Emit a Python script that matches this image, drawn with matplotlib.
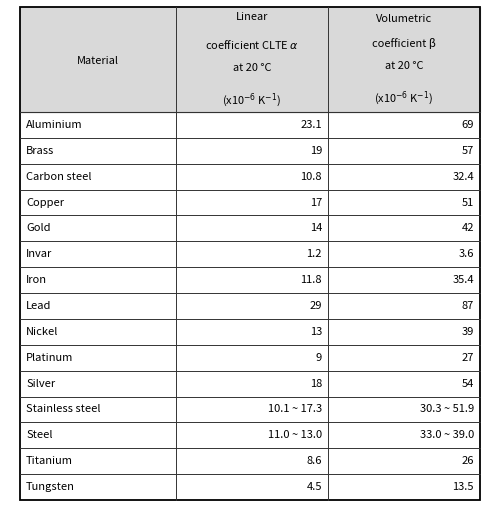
import matplotlib
matplotlib.use("Agg")
import matplotlib.pyplot as plt

materials = ["Aluminium", "Brass", "Carbon steel", "Copper", "Gold", "Invar", "Iron", "Lead",
             "Nickel", "Platinum", "Silver", "Stainless steel", "Steel", "Titanium", "Tungsten"]
linear = ["23.1", "19", "10.8", "17", "14", "1.2", "11.8", "29", "13", "9", "18",
          "10.1 ~ 17.3", "11.0 ~ 13.0", "8.6", "4.5"]
volumetric = ["69", "57", "32.4", "51", "42", "3.6", "35.4", "87", "39", "27", "54",
              "30.3 ~ 51.9", "33.0 ~ 39.0", "26", "13.5"]
headers = ["Material",
           "Linear\ncoefficient CLTE $\\alpha$\nat 20 °C\n(x10$^{-6}$ K$^{-1}$)",
           "Volumetric\ncoefficient β\nat 20 °C\n(x10$^{-6}$ K$^{-1}$)"]

plt.rcParams['font.family'] = ['Noto Sans CJK KR', 'DejaVu Sans']
fig = plt.figure(figsize=(4.86, 5.09), dpi=100)
ax = fig.add_axes([0, 0, 1, 1])
ax.set_xlim(0, 486); ax.set_ylim(509, 0); ax.axis('off')

cols = [20, 176, 328, 480]
top, hb, bottom = 7, 112, 500
rh = (bottom - hb) / len(materials)
fs = 7.6
ax.add_patch(plt.Rectangle((cols[0], top), cols[3]-cols[0], hb-top, color='#d9d9d9', zorder=0))
for x in cols[1:3]:
    ax.plot([x, x], [top, bottom], color='#333333', lw=0.7)
for i in range(1, len(materials)):
    y = hb + i*rh
    ax.plot([cols[0], cols[3]], [y, y], color='#333333', lw=0.7)
ax.plot([cols[0], cols[3]], [hb, hb], color='#333333', lw=0.8)
ax.add_patch(plt.Rectangle((cols[0], top), cols[3]-cols[0], bottom-top, fill=False, ec='black', lw=1.3))
for j, h in enumerate(headers):
    ax.text((cols[j]+cols[j+1])/2, (top+hb)/2 + 1, h, ha='center', va='center', fontsize=fs+0.3, linespacing=2.5)
for i, (m, l, v) in enumerate(zip(materials, linear, volumetric)):
    y = hb + (i+0.5)*rh
    ax.text(cols[0]+6, y, m, ha='left', va='center', fontsize=fs+0.4)
    ax.text(cols[2]-6, y, l, ha='right', va='center', fontsize=fs+0.4)
    ax.text(cols[3]-6, y, v, ha='right', va='center', fontsize=fs+0.4)
fig.savefig("out.png", dpi=100)
